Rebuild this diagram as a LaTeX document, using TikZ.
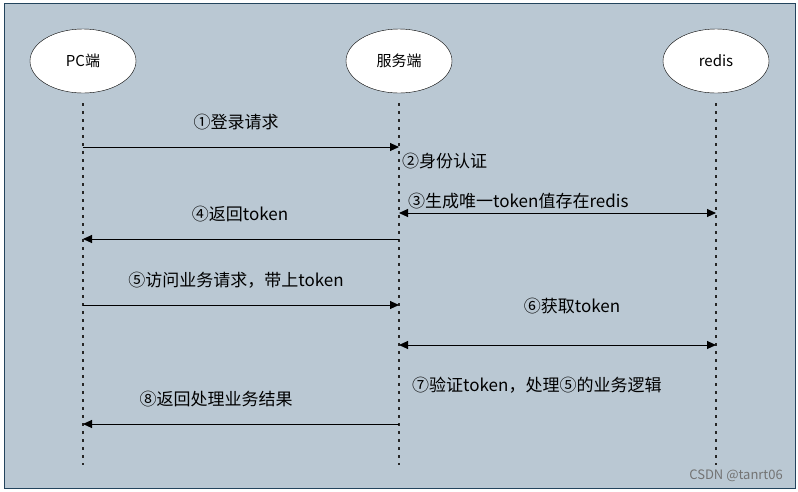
\documentclass[tikz,border=0pt]{standalone}
\usepackage{fontspec}
\setmainfont{Noto Sans CJK SC}
\usetikzlibrary{shapes.geometric,arrows.meta}
\begin{document}
\begin{tikzpicture}[x=1pt,y=-1pt,
  actor/.style={ellipse,draw=black,fill=white,minimum width=106pt,minimum height=64pt,inner sep=0pt,font=\fontsize{15}{17}\selectfont},
  life/.style={line width=2.5pt,dash pattern=on 2.5pt off 5.5pt,draw=black!85},
  msg/.style={-{Triangle[length=9pt,width=8pt]},line width=1pt},
  dmsg/.style={{Triangle[length=9pt,width=8pt]}-{Triangle[length=9pt,width=8pt]},line width=1pt},
  lbl/.style={font=\fontsize{17}{19}\selectfont,inner sep=0pt}]
\useasboundingbox (0,0) rectangle (798,491);
\fill[white] (0,0) rectangle (798,491);
\draw[fill={rgb,255:red,186;green,200;blue,211},draw={rgb,255:red,35;green,68;blue,93},line width=1pt] (4,3) rectangle (795,488);
\node[actor] (pc) at (83,61) {PC端};
\node[actor] (sv) at (399,61) {服务端};
\node[actor] (rd) at (716,61) {redis};
\coordinate (pcE) at (83,465);
\coordinate (svE) at (399,465);
\coordinate (rdE) at (716,465);
\draw[life] ([yshift=-10pt]pc.south) -- (pcE);
\draw[life] ([yshift=-10pt]sv.south) -- (svE);
\draw[life] ([yshift=-10pt]rd.south) -- (rdE);
\foreach \y/\n in {147/1,213/3,239/4,305/5,345/6,424/8}{
  \coordinate (p\n) at (83,\y); \coordinate (s\n) at (399,\y); \coordinate (r\n) at (716,\y);}
\draw[msg] (p1) -- (s1);
\draw[dmsg] (s3) -- (r3);
\draw[msg] (s4) -- (p4);
\draw[msg] (p5) -- (s5);
\draw[dmsg] (s6) -- (r6);
\draw[msg] (s8) -- (p8);
\node[lbl] (l1) at (236,122) {①登录请求};
\node[lbl,anchor=west] (l2) at (402,161) {②身份认证};
\node[lbl,anchor=west] (l3) at (408,201) {③生成唯一token值存在redis};
\node[lbl] (l4) at (240,214) {④返回token};
\node[lbl] (l5) at (236,280) {⑤访问业务请求，带上token};
\node[lbl] (l6) at (572,306) {⑥获取token};
\node[lbl,anchor=west] (l7) at (412,385) {⑦验证token，处理⑤的业务逻辑};
\node[lbl] (l8) at (216,399) {⑧返回处理业务结果};
\node[font=\fontsize{13}{14}\selectfont,text=black!55,anchor=east,inner sep=0pt] (wm) at (783,476) {CSDN @tanrt06};
\end{tikzpicture}
\end{document}
